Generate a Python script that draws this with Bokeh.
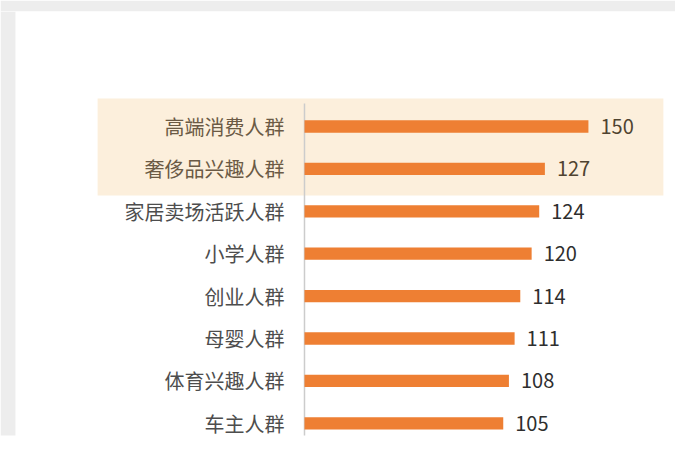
from bokeh.plotting import figure
from bokeh.models import ColumnDataSource, Range1d, BoxAnnotation
from bokeh.core.properties import value
from bokeh.embed import file_html
from bokeh.resources import INLINE

categories = ["高端消费人群", "奢侈品兴趣人群", "家居卖场活跃人群", "小学人群",
              "创业人群", "母婴人群", "体育兴趣人群", "车主人群"]
values = [150, 127, 124, 120, 114, 111, 108, 105]
highlighted = [True, True, False, False, False, False, False, False]

idx = list(range(len(categories)))
label_colors = ["#6b5a45" if h else "#4d4d4d" for h in highlighted]
value_colors = ["#4f4330" if h else "#2e2e2e" for h in highlighted]
src = ColumnDataSource(dict(y=idx, v=values, cat=categories,
                            lab=[str(v) for v in values],
                            lc=label_colors, vc=value_colors))

p = figure(width=675, height=457, output_backend="svg", toolbar_location=None,
           x_range=Range1d(-160.6, 196.0), y_range=Range1d(7.807, -2.712),
           min_border_left=0, min_border_top=11, min_border_right=0, min_border_bottom=0)
p.border_fill_color = "#ededed"
p.background_fill_color = "white"
p.outline_line_color = None
p.axis.visible = False
p.grid.visible = False

# grey page strip on the left
p.add_layout(BoxAnnotation(right=-152.7, bottom=7.29, fill_color="#ededed",
                           fill_alpha=1, line_color=None, level="underlay"))

# highlight band behind the first two rows
n_hl = sum(highlighted)
p.quad(left=-109.3, right=189.6, top=-0.66, bottom=n_hl - 1 + 0.627,
       fill_color="#fcefdc", line_color=None)

# vertical axis line
p.segment(x0=0, x1=0, y0=-0.54, y1=len(categories) - 1 + 0.29,
          line_color="#cccccc", line_width=1.5)

p.hbar(y="y", left=0, right="v", height=0.29, source=src,
       fill_color="#ee7f33", line_color=None)

p.text(x=0, y="y", text="cat", source=src, x_offset=-20,
       text_align="right", text_baseline="middle", text_font_size="20px",
       text_font=value("Noto Sans CJK SC"), text_color="lc")

p.text(x="v", y="y", text="lab", source=src, x_offset=12,
       text_align="left", text_baseline="middle", text_font_size="20px",
       text_font=value("Noto Sans CJK SC"), text_color="vc")

open("out.html", "w").write(file_html(p, INLINE))
